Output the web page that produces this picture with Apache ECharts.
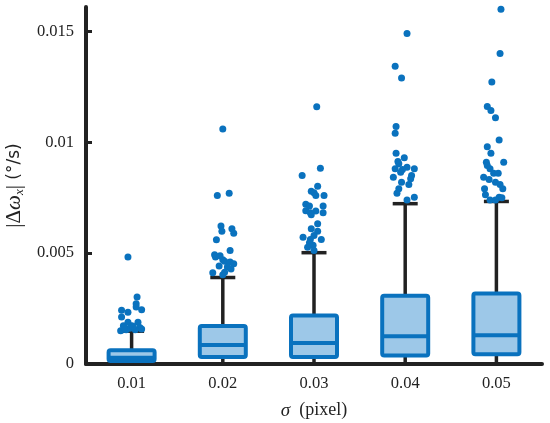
<!DOCTYPE html>
<html>
<head>
<meta charset="utf-8">
<script src="https://cdn.jsdelivr.net/npm/echarts@6/dist/echarts.min.js"></script>
<style>
  html, body { margin: 0; padding: 0; background: #fff; }
  #main { width: 550px; height: 423px; }
</style>
</head>
<body>
<div id="main"></div>
<script>
// sigma (pixel)
var categories = ['0.01', '0.02', '0.03', '0.04', '0.05'];
var yTicks = [0, 0.005, 0.01, 0.015];

// box statistics
var whiskerLow  = [0, 0, 0, 0, 0];
var q1          = [0.00013, 0.00032, 0.00032, 0.00038, 0.00044];
var median      = [0.00028, 0.00086, 0.00095, 0.00125, 0.0013];
var q3          = [0.00062, 0.00171, 0.00219, 0.00308, 0.00318];
var whiskerHigh = [0.00148, 0.0039, 0.00502, 0.00723, 0.00733];

// outliers: [horizontal jitter (category units), value]
var out001 = [[-0.04,0.00482],[0.06,0.00302],[0.05,0.00272],[0.05,0.00257],[0.11,0.00245],[-0.11,0.00242],
  [-0.04,0.00233],[-0.11,0.00212],[0.07,0.00188],[-0.04,0.00188],[-0.09,0.00173],[0,0.00173],[0.09,0.00165],
  [-0.02,0.00161],[0.11,0.00158],[-0.06,0.00155],[0.04,0.00155],[-0.12,0.0015],[0.015,0.0017],[-0.08,0.00163]];
var out002 = [[0,0.0106],[-0.06,0.0076],[0.07,0.0077],[-0.02,0.00622],[-0.01,0.00599],[0.1,0.0061],[0.12,0.0059],
  [-0.07,0.0056],[0.08,0.00512],[-0.09,0.00493],[-0.08,0.00482],[0,0.0047],[0.02,0.00463],[0.08,0.0046],
  [0.12,0.00452],[-0.04,0.00442],[0.05,0.00437],[0.02,0.00414],[-0.11,0.00412],[0,0.00403],[-0.03,0.00488],[0.09,0.00428]];
var out003 = [[0.03,0.0116],[0.07,0.00883],[-0.13,0.0085],[0.04,0.00802],[-0.03,0.00779],[0,0.00772],[0.02,0.0076],
  [0.11,0.0076],[-0.09,0.00721],[-0.05,0.00712],[0.1,0.00712],[-0.09,0.00691],[-0.04,0.00682],[0.02,0.0069],
  [0.1,0.00682],[-0.03,0.00673],[0.04,0.00633],[-0.03,0.0061],[0.04,0.00599],[-0.12,0.00572],[0,0.0058],
  [0.08,0.00562],[-0.04,0.00562],[-0.05,0.00547],[-0.01,0.00535],[-0.07,0.00527],[0,0.00512]];
var out004 = [[0.02,0.0149],[-0.11,0.01343],[-0.04,0.0129],[-0.1,0.01071],[-0.11,0.01041],[-0.1,0.0095],[-0.01,0.0093],
  [-0.08,0.00913],[-0.07,0.00903],[0.02,0.00887],[-0.11,0.0088],[-0.03,0.00877],[0.1,0.0088],[-0.05,0.00865],
  [0.07,0.0085],[-0.13,0.00842],[0.06,0.00835],[-0.04,0.0082],[0.04,0.0081],[-0.07,0.0079],[-0.09,0.0077],
  [0.1,0.00752],[0.02,0.0074]];
var out005 = [[0.05,0.016],[0.04,0.014],[-0.05,0.01272],[-0.1,0.01161],[-0.06,0.01143],[-0.01,0.0111],[0.03,0.0101],
  [-0.1,0.0098],[-0.06,0.0095],[0.08,0.0091],[-0.11,0.0091],[-0.1,0.00895],[-0.07,0.0088],[-0.03,0.0086],
  [0.02,0.0086],[-0.14,0.00842],[-0.08,0.00832],[-0.01,0.0082],[0.04,0.0081],[-0.13,0.0079],[0.07,0.0079],
  [-0.12,0.00763],[0.03,0.00752],[-0.07,0.0074],[0.06,0.0075],[-0.01,0.0074]];

var outliers = [out001, out002, out003, out004, out005];

var boxData = [], scatterData = [];
for (var i = 0; i < categories.length; i++) {
  boxData.push([i, whiskerLow[i], q1[i], median[i], q3[i], whiskerHigh[i]]);
  outliers[i].forEach(function (p) {
    scatterData.push([i + p[0], p[1]]);
  });
}

var axisColor = '#222222';
var boxBlue = '#0A72BE';
var boxFill = '#9DC8E8';
var serif = '"Liberation Serif", "DejaVu Serif", serif';

// whisker + box drawn through the axis scales
function renderBox(params, api) {
  var idx = api.value(0);
  var pLow = api.coord([idx, api.value(1)]);
  var pQ1 = api.coord([idx, api.value(2)]);
  var pMed = api.coord([idx, api.value(3)]);
  var pQ3 = api.coord([idx, api.value(4)]);
  var pHigh = api.coord([idx, api.value(5)]);
  var x = pLow[0];
  var bw = 46, cw = 25;
  return {
    type: 'group',
    children: [
      { type: 'line', shape: { x1: x, y1: pLow[1], x2: x, y2: pHigh[1] },
        style: { stroke: axisColor, lineWidth: 3.5 } },
      { type: 'line', shape: { x1: x - cw / 2, y1: pHigh[1], x2: x + cw / 2, y2: pHigh[1] },
        style: { stroke: axisColor, lineWidth: 3.5 } },
      { type: 'rect', shape: { x: x - bw / 2, y: pQ3[1], width: bw, height: pQ1[1] - pQ3[1], r: 2 },
        style: { fill: boxFill, stroke: boxBlue, lineWidth: 4 } },
      { type: 'line', shape: { x1: x - bw / 2, y1: pMed[1], x2: x + bw / 2, y2: pMed[1] },
        style: { stroke: boxBlue, lineWidth: 4 } }
    ]
  };
}

var myChart = echarts.init(document.getElementById('main'));

var option = {
  animation: false,
  backgroundColor: '#fff',
  grid: { left: 86, right: 8, top: 7, bottom: 59, containLabel: false, outerBoundsMode: 'none' },
  xAxis: [{
    type: 'category',
    data: categories,
    name: '{i|σ}{t|  (pixel)}',
    nameLocation: 'middle',
    nameGap: 37,
    nameTextStyle: {
      rich: {
        i: { fontFamily: serif, fontStyle: 'italic', fontSize: 19, color: '#222' },
        t: { fontFamily: serif, fontSize: 18, color: '#222' }
      }
    },
    axisLine: { onZero: false, lineStyle: { color: axisColor, width: 4 } },
    axisTick: { show: false },
    axisLabel: { fontFamily: serif, fontSize: 16.5, color: '#222', margin: 11 },
    splitLine: { show: false }
  }, {
    type: 'value',
    min: -0.5,
    max: 4.5,
    show: false
  }],
  yAxis: {
    type: 'value',
    min: 0,
    max: 0.0161,
    interval: 0.005,
    name: '{n||Δ}{i|ω}{s|x}{n||}{u| (°/s)}',
    nameLocation: 'middle',
    nameGap: 55,
    nameRotate: 90,
    nameTextStyle: {
      rich: {
        n: { fontFamily: serif, fontSize: 21, color: '#222' },
        i: { fontFamily: serif, fontStyle: 'italic', fontSize: 21, color: '#222' },
        s: { fontFamily: serif, fontStyle: 'italic', fontSize: 13, color: '#222', padding: [10, 0, 0, 0] },
        u: { fontFamily: '"DejaVu Sans", sans-serif', fontSize: 17, color: '#222' }
      }
    },
    axisLine: { show: true, onZero: false, lineStyle: { color: axisColor, width: 4 } },
    axisTick: { show: true, inside: true, length: 6, customValues: yTicks, lineStyle: { color: axisColor, width: 3 } },
    axisLabel: { fontFamily: serif, fontSize: 16.5, color: '#222', margin: 12, customValues: yTicks },
    splitLine: { show: false }
  },
  series: [
    {
      name: 'box',
      type: 'custom',
      renderItem: renderBox,
      data: boxData,
      encode: { x: 0, y: [1, 2, 3, 4, 5] },
      z: 3
    },
    {
      name: 'outliers',
      type: 'scatter',
      xAxisIndex: 1,
      data: scatterData,
      symbolSize: 7,
      itemStyle: { color: boxBlue, opacity: 1 },
      z: 5
    }
  ]
};

myChart.setOption(option);
</script>
</body>
</html>
